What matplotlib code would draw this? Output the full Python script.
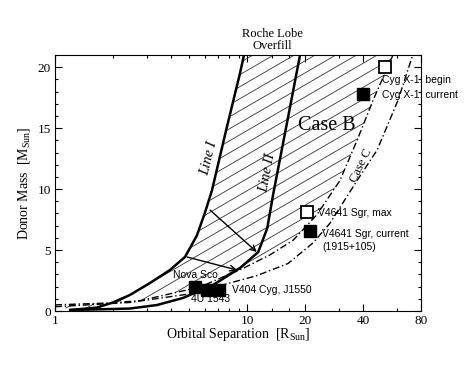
import numpy as np
import matplotlib
matplotlib.use("Agg")
import matplotlib.pyplot as plt
from matplotlib.patches import Polygon

plt.rcParams['font.family'] = ['Liberation Serif', 'DejaVu Serif']
plt.rcParams['mathtext.fontset'] = 'custom'
plt.rcParams['mathtext.rm'] = 'Liberation Serif'

# boundary curves (orbital separation [R_sun], donor mass [M_sun])
line1_x = [1.2, 1.65, 2.0, 2.45, 3.12, 3.96, 4.74, 5.47, 6.03, 6.55, 7.75, 9.16, 9.61]
line1_y = [0.08, 0.28, 0.7, 1.31, 2.3, 3.36, 4.43, 6.2, 8.1, 9.9, 14.8, 19.5, 21.0]

line2_x = [1.2, 2.45, 3.39, 4.63, 6.63, 9.16, 11.4, 12.7, 13.6, 16.2, 18.8]
line2_y = [0.08, 0.2, 0.49, 1.07, 2.13, 3.52, 4.84, 6.8, 9.5, 15.7, 21.0]

caseC_in_x = [1.0, 1.93, 2.77, 5.68, 9.5, 13.1, 17.3, 23.0, 30.3, 37.2, 45.1, 57.2]
caseC_in_y = [0.5, 0.66, 0.85, 1.97, 3.5, 4.6, 5.8, 7.9, 10.7, 14.0, 17.3, 21.0]

caseC_out_x = [1.0, 2.45, 5.0, 8.13, 11.2, 16.3, 22.0, 26.9, 37.2, 47.3, 60.8, 71.8, 74.0]
caseC_out_y = [0.35, 0.7, 1.4, 2.3, 2.9, 3.9, 5.6, 7.2, 10.7, 13.2, 17.3, 20.8, 21.3]

# systems
filled_names = ["Cyg X-1 current", "V4641 Sgr current", "Nova Sco", "4U 1543", "V404 Cyg"]
filled_x = [40.0, 21.2, 5.35, 6.17, 7.13]
filled_y = [17.8, 6.56, 1.97, 1.72, 1.72]
open_names = ["Cyg X-1 begin", "V4641 Sgr max"]
open_x = [52.0, 20.4]
open_y = [20.0, 8.1]

# evolution arrows (start -> end)
arrow_start = [(6.4, 8.28), (4.86, 4.43)]
arrow_end = [(11.2, 4.84), (8.84, 3.36)]

fig = plt.figure(figsize=(4.74, 3.66), dpi=100)
ax = fig.add_axes([55 / 474, 55 / 366, 366 / 474, 256 / 366])


def pix(px, py):
    return ((px - 55) / 366, (311 - py) / 256)


ax.set_xscale('log')
ax.set_xlim(1, 80)
ax.set_ylim(0, 21)

# hatched region between Line I and inner Case C boundary
poly_pts = list(zip(line1_x, line1_y)) + list(zip(caseC_in_x[::-1], caseC_in_y[::-1]))
poly = Polygon(poly_pts, closed=True, facecolor='none', edgecolor='none')
ax.add_patch(poly)
for c in np.arange(-1.0, 1.05, 0.047):
    ln, = ax.plot([0, 1], [c, c + 0.83], transform=ax.transAxes, color='0.2', lw=0.6)
    ln.set_clip_path(poly)

ax.plot(line1_x, line1_y, color='black', lw=1.8)
ax.plot(line2_x, line2_y, color='black', lw=1.8)
ax.plot(caseC_in_x, caseC_in_y, color='black', lw=1.0, dashes=(5, 2, 1, 2))
ax.plot(caseC_out_x, caseC_out_y, color='black', lw=1.0, dashes=(5, 2, 1, 2))

for s, e in zip(arrow_start, arrow_end):
    ax.annotate("", xy=e, xytext=s,
                arrowprops=dict(arrowstyle='->', color='black', lw=1.0,
                                mutation_scale=10, shrinkA=0, shrinkB=0))

ax.plot(filled_x, filled_y, 's', color='black', ms=8.5, zorder=5)
ax.plot(open_x, open_y, 's', mfc='white', mec='black', mew=1.3, ms=8.5, zorder=5)

# labels
sans = ['Liberation Sans', 'DejaVu Sans']
fs = 7.5
ax.text(*pix(195, 275), "Nova Sco", family=sans, fontsize=fs, ha='center', va='center',
        transform=ax.transAxes)
ax.text(*pix(211, 299), "4U 1543", family=sans, fontsize=fs, ha='center', va='center',
        transform=ax.transAxes)
ax.text(*pix(232, 290), "V404 Cyg, J1550", family=sans, fontsize=fs, ha='left', va='center',
        transform=ax.transAxes)
ax.text(*pix(318, 213), "V4641 Sgr, max", family=sans, fontsize=fs, ha='left', va='center',
        transform=ax.transAxes)
ax.text(*pix(322, 234), "V4641 Sgr, current", family=sans, fontsize=fs, ha='left', va='center',
        transform=ax.transAxes)
ax.text(*pix(322, 247), "(1915+105)", family=sans, fontsize=fs, ha='left', va='center',
        transform=ax.transAxes)
ax.text(*pix(382, 80), "Cyg X-1: begin", family=sans, fontsize=fs, ha='left', va='center',
        transform=ax.transAxes)
ax.text(*pix(382, 95), "Cyg X-1: current", family=sans, fontsize=fs, ha='left', va='center',
        transform=ax.transAxes)

ax.text(*pix(327, 125), "Case B", fontsize=14.5, ha='center', va='center', transform=ax.transAxes)
ax.text(*pix(209, 158), "Line I", fontsize=10.5, style='italic', rotation=76,
        ha='center', va='center', transform=ax.transAxes)
ax.text(*pix(268, 173), "Line II", fontsize=10.5, style='italic', rotation=79,
        ha='center', va='center', transform=ax.transAxes)
ax.text(*pix(361, 166), "Case C", fontsize=9, rotation=64, ha='center', va='center',
        transform=ax.transAxes)
ax.text(*pix(272, 40), "Roche Lobe\nOverfill", fontsize=9, ha='center', va='center',
        linespacing=1.1, transform=ax.transAxes)

# ticks
ax.set_xticks([1, 10, 20, 40, 80])
ax.set_xticklabels(["1", "10", "20", "40", "80"])
ax.set_xticks([2, 3, 4, 5, 6, 7, 8, 9, 13.5, 16.5, 30, 60], minor=True)
ax.xaxis.set_minor_formatter(matplotlib.ticker.NullFormatter())
ax.set_yticks([0, 5, 10, 15, 20])
ax.set_yticks(np.arange(0, 22, 1), minor=True)
ax.tick_params(which='both', direction='in', top=True, right=True, labelsize=9.5, pad=3)
ax.tick_params(which='major', length=5, width=0.8)
ax.tick_params(which='minor', length=2.5, width=0.8)

ax.set_xlabel(r"Orbital Separation  [R$_{\mathrm{Sun}}$]", fontsize=10)
ax.set_ylabel(r"Donor Mass  [M$_{\mathrm{Sun}}$]", fontsize=10)
ax.xaxis.set_label_coords(0.5, -0.06)
ax.yaxis.set_label_coords(-0.063, 0.5)

fig.savefig("out.png", dpi=100)
